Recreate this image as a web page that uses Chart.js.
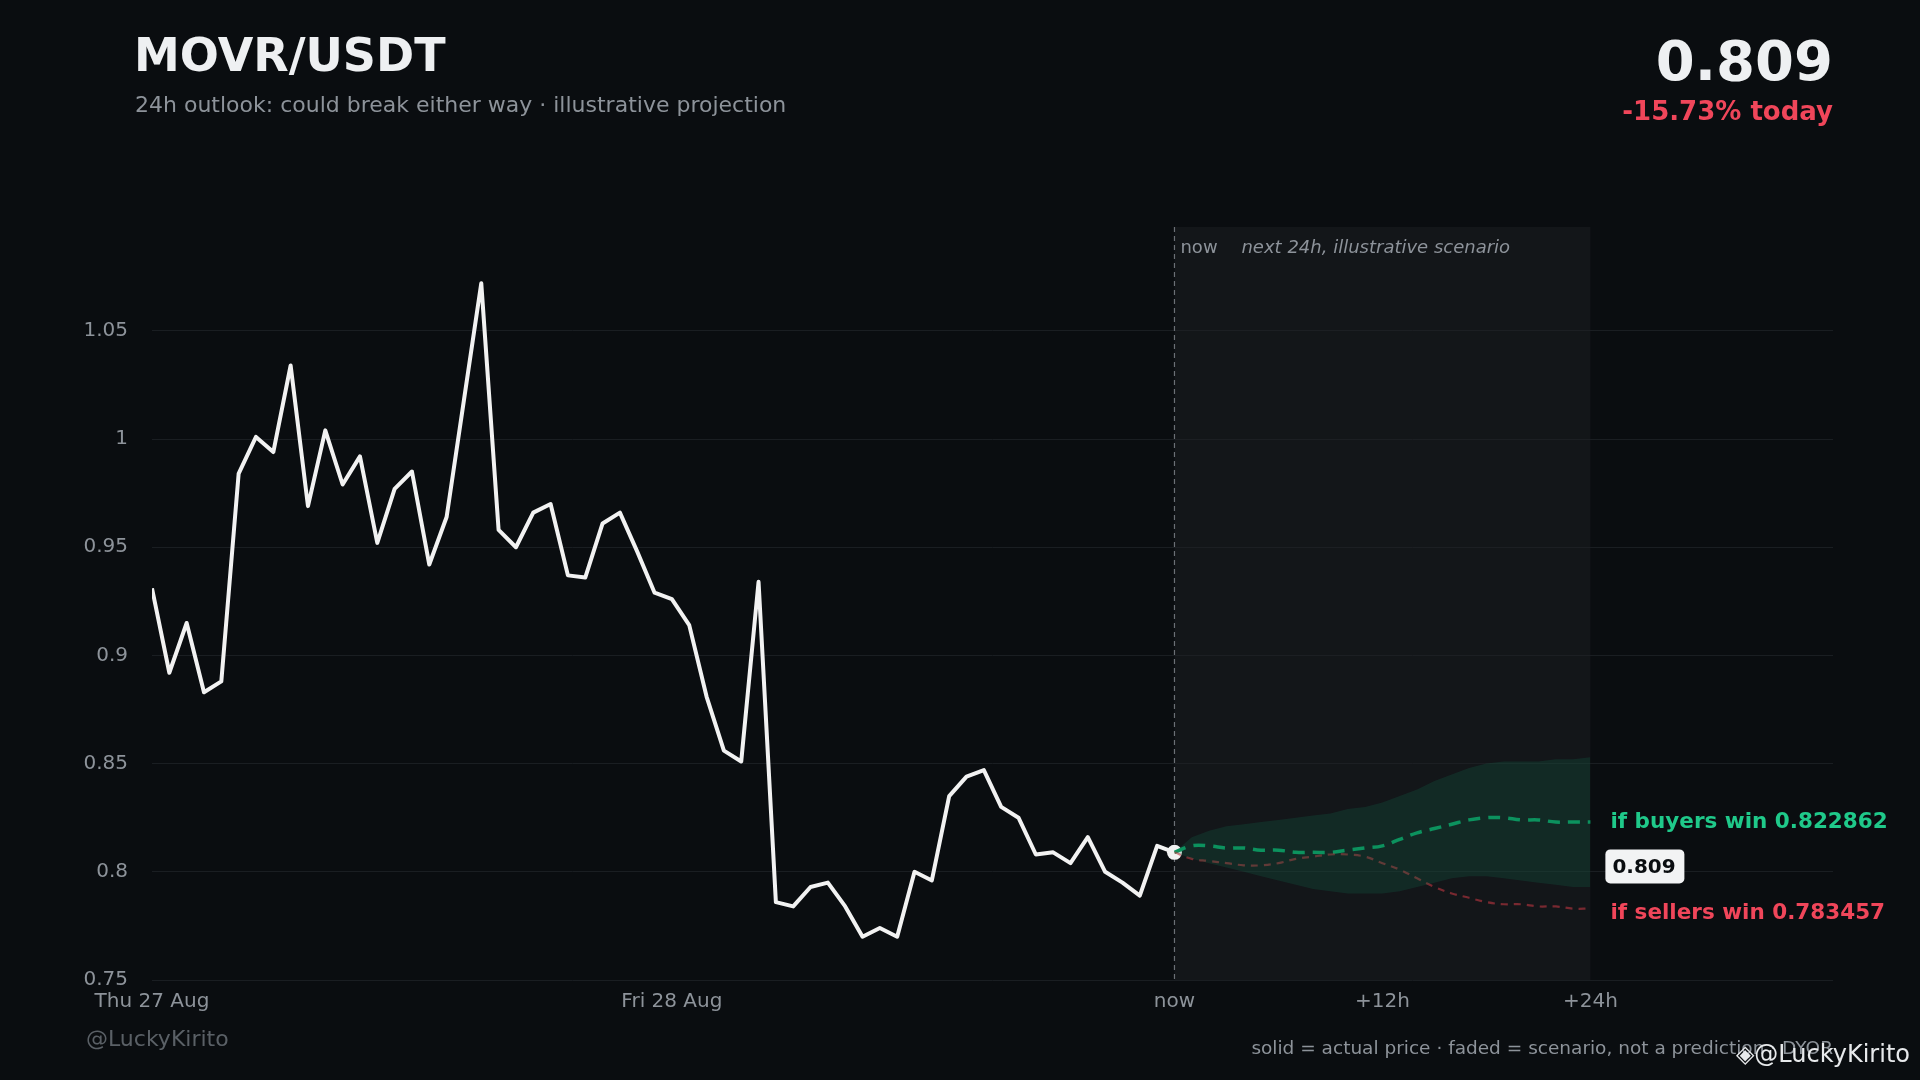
<!DOCTYPE html>
<html><head><meta charset="utf-8">
<script src="https://cdn.jsdelivr.net/npm/chart.js@4"></script>
<style>
body{margin:0;background:#0a0d10;width:1920px;height:1080px;overflow:hidden;font-family:"DejaVu Sans",sans-serif}
#wrap{position:absolute;left:0;top:0;width:1920px;height:1080px}
.t{position:absolute;white-space:nowrap}
</style></head><body>
<div id="wrap"><canvas id="c"></canvas></div>
<div class="t" style="left:134px;top:28px;font-size:46px;font-weight:bold;color:#eef0f2">MOVR/USDT</div>
<div class="t" style="left:135px;top:92px;font-size:22px;color:#8d939a">24h outlook: could break either way · illustrative projection</div>
<div class="t" style="right:87px;top:28px;font-size:56px;font-weight:bold;color:#eef0f2">0.809</div>
<div class="t" style="right:87px;top:96px;font-size:26px;font-weight:bold;color:#f0465a">-15.73% today</div>
<div class="t" style="left:86px;top:1026px;font-size:22px;color:#5a6066">@LuckyKirito</div>
<div class="t" style="right:87px;top:1037px;font-size:18.5px;color:#8d939a">solid = actual price · faded = scenario, not a prediction · DYOR</div>
<div class="t" style="right:10px;top:1040px;font-size:24px;color:#e8eaec">◈@LuckyKirito</div>
<script>
const history = [0.931,0.892,0.915,0.883,0.888,0.984,1.001,0.994,1.034,0.969,1.004,0.979,0.992,0.952,0.977,0.985,0.942,0.964,1.018,1.072,
  0.958,0.950,0.966,0.970,0.937,0.936,0.961,0.966,0.948,0.929,0.926,0.914,0.881,0.856,0.851,0.934,0.786,0.784,0.793,0.795,
  0.784,0.770,0.774,0.770,0.800,0.796,0.835,0.844,0.847,0.830,0.825,0.808,0.809,0.804,0.816,0.800,0.795,0.789,0.812,0.809];
const buyers = [0.809,0.812,0.812,0.811,0.811,0.810,0.810,0.809,0.809,0.809,0.810,0.811,0.812,0.815,0.818,0.820,0.822,0.824,0.825,0.825,0.824,0.824,0.823,0.823,0.823];
const sellers = [0.809,0.806,0.805,0.804,0.803,0.803,0.804,0.806,0.807,0.808,0.808,0.807,0.804,0.801,0.797,0.793,0.790,0.788,0.786,0.785,0.785,0.784,0.784,0.783,0.783];
const bandHi = [0.809,0.816,0.819,0.821,0.822,0.823,0.824,0.825,0.826,0.827,0.829,0.830,0.832,0.835,0.838,0.842,0.845,0.848,0.850,0.851,0.851,0.851,0.852,0.852,0.853];
const bandLo = [0.809,0.806,0.804,0.802,0.800,0.798,0.796,0.794,0.792,0.791,0.790,0.790,0.790,0.791,0.793,0.795,0.797,0.798,0.798,0.797,0.796,0.795,0.794,0.793,0.793];
const xTicks = {0:'Thu 27 Aug',30:'Fri 28 Aug',59:'now',71:'+12h',83:'+24h'};
const yTicks = [0.75,0.8,0.85,0.9,0.95,1,1.05];
const NOW = history.length - 1;

const pts = (arr, start) => arr.map((v, i) => ({x: start + i, y: v}));

const overlay = {
  id: 'overlay',
  beforeDatasetsDraw(chart) {
    const {ctx, chartArea: a, scales: {x}} = chart;
    const x0 = x.getPixelForValue(NOW), x1 = x.getPixelForValue(NOW + 24);
    ctx.save();
    ctx.fillStyle = 'rgba(30,34,38,0.45)';
    ctx.fillRect(x0, a.top, x1 - x0, a.bottom - a.top);
    ctx.strokeStyle = '#6b7076'; ctx.lineWidth = 1.2; ctx.setLineDash([5, 4]);
    ctx.beginPath(); ctx.moveTo(x0, a.top); ctx.lineTo(x0, a.bottom); ctx.stroke();
    ctx.setLineDash([]);
    ctx.fillStyle = '#8d939a'; ctx.font = '18px "DejaVu Sans"'; ctx.textBaseline = 'middle';
    ctx.fillText('now', x0 + 6, a.top + 21);
    ctx.font = 'italic 18px "DejaVu Sans"';
    ctx.fillText('next 24h, illustrative scenario', x0 + 67, a.top + 21);
    ctx.restore();
  },
  afterDatasetsDraw(chart) {
    const {ctx, scales: {x, y}} = chart;
    const lx = x.getPixelForValue(NOW + 24) + 20;
    ctx.save();
    ctx.textBaseline = 'middle';
    ctx.font = 'bold 21.5px "DejaVu Sans"';
    ctx.fillStyle = '#1fc98a';
    ctx.fillText('if buyers win 0.822862', lx, y.getPixelForValue(0.8225) - 1);
    ctx.fillStyle = '#f0465a';
    ctx.fillText('if sellers win 0.783457', lx, y.getPixelForValue(0.783) + 5);
    const by = y.getPixelForValue(0.8025);
    ctx.fillStyle = '#f2f3f4';
    ctx.beginPath(); ctx.roundRect(lx - 5, by - 17, 79, 34, 5); ctx.fill();
    ctx.fillStyle = '#0a0d10';
    ctx.font = 'bold 20px "DejaVu Sans"';
    ctx.fillText('0.809', lx + 2, by + 1);
    ctx.restore();
  }
};

new Chart(document.getElementById('c'), {
  type: 'line',
  data: {
    datasets: [
      {data: pts(bandHi, NOW), borderWidth: 0, pointRadius: 0, fill: '+1', backgroundColor: 'rgba(16,120,80,0.22)'},
      {data: pts(bandLo, NOW), borderWidth: 0, pointRadius: 0, fill: false},
      {data: pts(sellers, NOW), borderColor: 'rgba(190,55,65,0.6)', borderWidth: 2.2, borderDash: [7, 6], pointRadius: 0, tension: 0.4},
      {data: pts(buyers, NOW), borderColor: '#0b9a62', borderWidth: 3.5, borderDash: [12, 8], pointRadius: 0, tension: 0.4},
      {data: pts(history, 0), borderColor: '#f2f2f2', borderWidth: 4, tension: 0, borderJoinStyle: 'round',
       pointRadius: history.map((v, i) => i === NOW ? 7.5 : 0), pointBackgroundColor: '#f2f2f2', pointBorderColor: '#f2f2f2', pointBorderWidth: 0}
    ]
  },
  options: {
    responsive: true, maintainAspectRatio: false, animation: false,
    layout: {padding: {left: 0, right: 87, top: 227, bottom: 0}},
    plugins: {legend: {display: false}, tooltip: {enabled: false}},
    scales: {
      x: {
        type: 'linear', min: 0, max: 97,
        afterFit: s => { s.height = 100; },
        afterBuildTicks: s => { s.ticks = Object.keys(xTicks).map(v => ({value: +v})); },
        ticks: {autoSkip: false, maxRotation: 0, color: '#8d939a', font: {size: 20, family: 'DejaVu Sans'}, padding: 2,
                callback: v => xTicks[v]},
        grid: {display: false}, border: {display: false}
      },
      y: {
        min: 0.75, max: 1.098,
        afterFit: s => { s.width = 152; },
        afterBuildTicks: s => { s.ticks = yTicks.map(v => ({value: v})); },
        ticks: {color: '#8d939a', font: {size: 20, family: 'DejaVu Sans'}, padding: 24, callback: v => String(v)},
        grid: {color: '#1a1e22', drawTicks: false}, border: {display: false}
      }
    }
  },
  plugins: [overlay]
});
</script>
</body></html>
